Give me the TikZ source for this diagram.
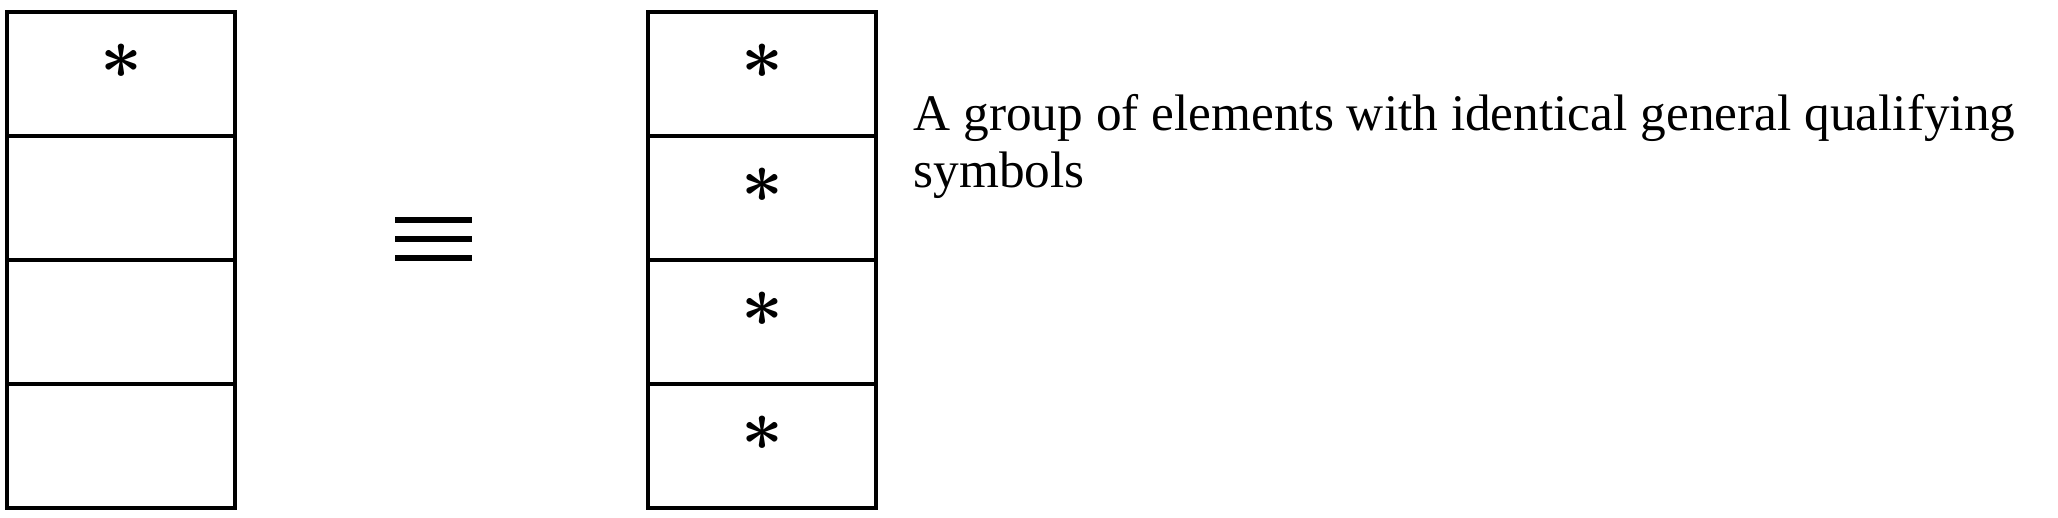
\documentclass[tikz,border=0pt]{standalone}
\usepackage{bm}
\usepackage{fontspec}
\setmainfont{Liberation Serif}
\usepackage{tikz}
\usetikzlibrary{positioning}

\tikzset{
  cell/.style={draw, line width=1.4pt, minimum width=2.28cm, minimum height=1.24cm, inner sep=0pt, outer sep=0pt},
  star/.style={inner sep=0pt, font=\fontsize{21}{21}\selectfont},
}

\begin{document}
\begin{tikzpicture}
  \useasboundingbox (0,0) rectangle (20.58,5.18);

  % Draw left column: one qualifying symbol for the whole group
  \node[cell] (l1) at (1.21,4.44) {};
  \node[cell, below=0pt of l1] (l2) {};
  \node[cell, below=0pt of l2] (l3) {};
  \node[cell, below=0pt of l3] (l4) {};
  \node[star] (ls1) at ([yshift=0.13cm]l1.center) {$\bm{\ast}$};

  % Draw identity sign
  \draw[line width=1.5pt] (3.95,2.98) -- (4.72,2.98);
  \draw[line width=1.5pt] (3.95,2.79) -- (4.72,2.79);
  \draw[line width=1.5pt] (3.95,2.60) -- (4.72,2.60);

  % Draw right column: symbol repeated in every element
  \node[cell] (r1) at (7.62,4.44) {};
  \node[cell, below=0pt of r1] (r2) {};
  \node[cell, below=0pt of r2] (r3) {};
  \node[cell, below=0pt of r3] (r4) {};
  \node[star] (rs1) at ([yshift=0.13cm]r1.center) {$\bm{\ast}$};
  \node[star] (rs2) at ([yshift=0.13cm]r2.center) {$\bm{\ast}$};
  \node[star] (rs3) at ([yshift=0.13cm]r3.center) {$\bm{\ast}$};
  \node[star] (rs4) at ([yshift=0.13cm]r4.center) {$\bm{\ast}$};

  % Description (base anchor sits on the last line)
  \node[anchor=base west, align=left, inner sep=0pt, font=\fontsize{14.6}{16.4}\selectfont] (desc) at (9.13,3.30)
    {A group of elements with identical general qualifying\\symbols};
\end{tikzpicture}
\end{document}
